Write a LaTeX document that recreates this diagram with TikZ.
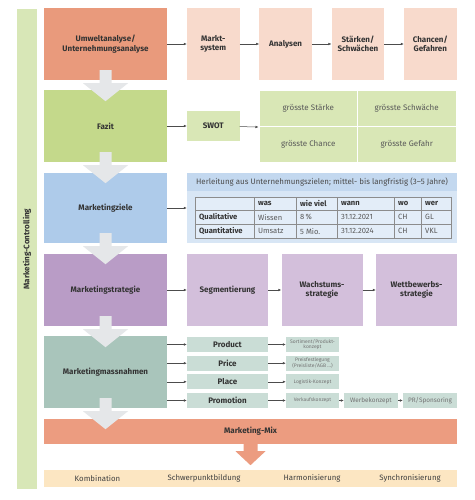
\documentclass[tikz,border=0pt]{standalone}
\usepackage{fontspec}
\setmainfont{Fira Sans}
\usepackage{xcolor}
\usetikzlibrary{arrows.meta,calc}
\definecolor{cInk}{HTML}{333333}
\definecolor{cUmwelt}{HTML}{E99A7C}
\definecolor{cUmweltL}{HTML}{F8DACC}
\definecolor{cFazit}{HTML}{C4D98B}
\definecolor{cFazitL}{HTML}{D9E7B6}
\definecolor{cZiele}{HTML}{AECBEA}
\definecolor{cZieleL}{HTML}{D8E6F5}
\definecolor{cZieleH}{HTML}{C3D8EF}
\definecolor{cZieleT}{HTML}{E3EDF8}
\definecolor{cStrat}{HTML}{B99CC6}
\definecolor{cStratL}{HTML}{D3BFDB}
\definecolor{cMass}{HTML}{A9C5BB}
\definecolor{cMassL}{HTML}{CADDD6}
\definecolor{cMix}{HTML}{EC9C80}
\definecolor{cKombi}{HTML}{FCE6C2}
\definecolor{cCtrl}{HTML}{D8E7B7}
\definecolor{cArrow}{HTML}{E5E7E9}
\tikzset{
  box/.style      = {rectangle, inner sep=1pt, align=center, text=cInk,
                     font=\fontsize{8}{9.3}\selectfont\bfseries},
  mainbox/.style  = {box, minimum width=123pt, minimum height=72pt},
  sidebox/.style  = {box, fill=cUmweltL, minimum width=52.5pt, minimum height=72pt},
  stratbox/.style = {box, fill=cStratL, minimum width=81pt, minimum height=72pt},
  pbox/.style     = {box, fill=cMassL, minimum width=81pt, minimum height=15pt},
  subbox/.style   = {box, fill=cMassL, minimum height=15pt, text=black!55,
                     font=\fontsize{5}{5.8}\selectfont},
  swotcell/.style = {box, fill=cFazitL, draw=white, line width=1pt,
                     minimum width=98.5pt, minimum height=35.5pt, text=black!65,
                     font=\fontsize{8}{9}\selectfont},
  kombi/.style    = {inner sep=0pt, text=black!75, font=\fontsize{7.8}{9}\selectfont},
  tline/.style    = {draw=black!45, line width=0.5pt},
  thead/.style    = {anchor=west, inner sep=0pt, text=cInk,
                     font=\fontsize{7.6}{8}\selectfont\bfseries},
  tcell/.style    = {anchor=west, inner sep=0pt, text=black!65,
                     font=\fontsize{7.6}{8}\selectfont},
  flow/.style     = {-{Latex[length=3pt,width=2.6pt]}, draw=black!70, line width=0.5pt},
  bigarrow/.style = {fill=cArrow},
}
\begin{document}
\begin{tikzpicture}[x=1pt, y=-1pt]
  \fill[white] (0,0) rectangle (474,500);
  \useasboundingbox (0,0) rectangle (474,500);
  % ---- controlling bar ----
  \node[box, fill=cCtrl, rotate=90, minimum width=480pt, minimum height=20pt]
    (ctrl) at (27,249) {Marketing-Controlling};
  % ---- main column ----
  \node[mainbox, fill=cUmwelt] (umwelt) at (105.5,44)
    {Umweltanalyse/\\Unternehmungsanalyse};
  \node[mainbox, fill=cFazit] (fazit) at (105.5,126) {Fazit};
  \node[mainbox, fill=cZiele, minimum height=70pt] (ziele) at (105.5,208)
    {Marketingziele};
  \node[mainbox, fill=cStrat] (strat) at (105.5,290) {Marketingstrategie};
  \node[mainbox, fill=cMass] (mass) at (105.5,372) {Marketingmassnahmen};
  \node[box, fill=cMix, minimum width=413pt, minimum height=25pt] (mix)
    at (250.5,431.5) {Marketing-Mix};
  \node[box, fill=cKombi, minimum width=413pt, minimum height=17pt] (kombiband)
    at (250.5,478.5) {};
  \node[kombi] (kombination) at (97.5,478.5) {Kombination};
  \node[kombi] (schwerpunkt) at (204,478.5) {Schwerpunktbildung};
  \node[kombi] (harmonie) at (312,478.5) {Harmonisierung};
  \node[kombi] (synchron) at (410,478.5) {Synchronisierung};
  % ---- analysis row ----
  \node[sidebox] (markt) at (213.25,44) {Markt-\\system};
  \node[sidebox] (analysen) at (285.6,44) {Analysen};
  \node[sidebox] (staerken) at (357.9,44) {Stärken/\\Schwächen};
  \node[sidebox] (chancen) at (430.25,44) {Chancen/\\Gefahren};
  % ---- SWOT row ----
  \node[box, fill=cFazitL, minimum width=52.5pt, minimum height=29pt] (swot)
    at (213.25,126) {SWOT};
  \node[swotcell] (staerke) at (308.25,108.75) {grösste Stärke};
  \node[swotcell] (schwaeche) at (406.75,108.75) {grösste Schwäche};
  \node[swotcell] (chance) at (308.25,144.25) {grösste Chance};
  \node[swotcell] (gefahr) at (406.75,144.25) {grösste Gefahr};
  % ---- goals panel ----
  \node[fill=cZieleL, minimum width=270pt, minimum height=70pt, inner sep=0pt]
    (panel) at (322,208) {};
  \node[anchor=north, fill=cZieleH, minimum width=270pt, minimum height=18pt,
        inner sep=0pt, text=black!70, font=\fontsize{7.9}{9}\selectfont]
    (panelhead) at (panel.north)
    {Herleitung aus Unternehmungszielen; mittel- bis langfristig (3–5 Jahre)};
  \filldraw[fill=cZieleT, tline] (195,197) rectangle (451,238);
  \foreach \x in {254,296,337,394,421}
    \draw[tline] (\x,197) -- (\x,238);
  \foreach \y in {210,224}
    \draw[tline] (195,\y) -- (451,\y);
  \foreach \x/\t in {258/was, 300/wie viel, 341/wann, 398/wo, 425/wer}
    \node[thead] (h\x) at (\x,203.8) {\t};
  \node[thead] (qual) at (199,217.3) {Qualitative};
  \node[thead] (quant) at (199,231.3) {Quantitative};
  \foreach \x/\t in {258/Wissen, 300/8\,\%, 341/31.12.2021, 398/CH, 425/GL}
    \node[tcell] (q\x) at (\x,217.3) {\t};
  \foreach \x/\t in {258/Umsatz, 300/5 Mio., 341/31.12.2024, 398/CH, 425/VKL}
    \node[tcell] (n\x) at (\x,231.3) {\t};
  % ---- strategy row ----
  \node[stratbox] (segment) at (227.5,290) {Segmentierung};
  \node[stratbox] (wachstum) at (322,290) {Wachstums-\\strategie};
  \node[stratbox] (wettbewerb) at (416.5,290) {Wettbewerbs-\\strategie};
  % ---- 4P rows ----
  \node[pbox] (product) at (227.5,344.5) {Product};
  \node[pbox] (price) at (227.5,363.2) {Price};
  \node[pbox] (place) at (227.5,381.8) {Place};
  \node[pbox] (promotion) at (227.5,400.5) {Promotion};
  \node[subbox, minimum width=53pt] (sortiment) at (312.5,344.5)
    {Sortiment/Produkt-\\konzept};
  \node[subbox, minimum width=53pt] (preis) at (312.5,363.2)
    {Preisfestlegung\\(Preisliste/AGB ...)};
  \node[subbox, minimum width=53pt] (logistik) at (312.5,381.8) {Logistik-Konzept};
  \node[subbox, minimum width=53pt] (verkauf) at (312.5,400.5) {Verkaufskonzept};
  \node[subbox, minimum width=54pt, font=\fontsize{6.4}{7}\selectfont] (werbe)
    at (371,400.5) {Werbekonzept};
  \node[subbox, minimum width=54pt, font=\fontsize{6.4}{7}\selectfont] (sponsor)
    at (430,400.5) {PR/Sponsoring};
  % ---- big down arrows ----
  \foreach \a in {umwelt,fazit,ziele,strat,mass}
    \fill[bigarrow] ($(\a.south)+(-6,-10)$) -- ++(12,0) -- ++(0,13) -- ++(16.5,0)
      -- ++(-22.5,18) -- ++(-22.5,-18) -- ++(16.5,0) -- cycle;
  \fill[cMix] ($(mix.south)+(-7,-1)$) -- ++(14,0) -- ++(0,8) -- ++(8,0)
    -- ++(-15,14) -- ++(-15,-14) -- ++(8,0) -- cycle;
  % ---- connectors ----
  \draw[flow] (umwelt) -- (markt);
  \draw[flow] (markt) -- (analysen);
  \draw[flow] (analysen) -- (staerken);
  \draw[flow] (staerken) -- (chancen);
  \draw[flow] (fazit) -- (swot);
  \draw[flow] (swot) -- (staerke.south west);
  \draw[flow] (ziele) -- (panel);
  \draw[flow] (strat) -- (segment);
  \draw[flow] (segment) -- (wachstum);
  \draw[flow] (wachstum) -- (wettbewerb);
  \foreach \p in {product,price,place,promotion}
    \draw[flow] (mass.east |- \p) -- (\p.west);
  \draw[flow] (product) -- (sortiment);
  \draw[flow] (price) -- (preis);
  \draw[flow] (place) -- (logistik);
  \draw[flow] (promotion) -- (verkauf);
  \draw[flow] (verkauf) -- (werbe);
  \draw[flow] (werbe) -- (sponsor);
\end{tikzpicture}
\end{document}
